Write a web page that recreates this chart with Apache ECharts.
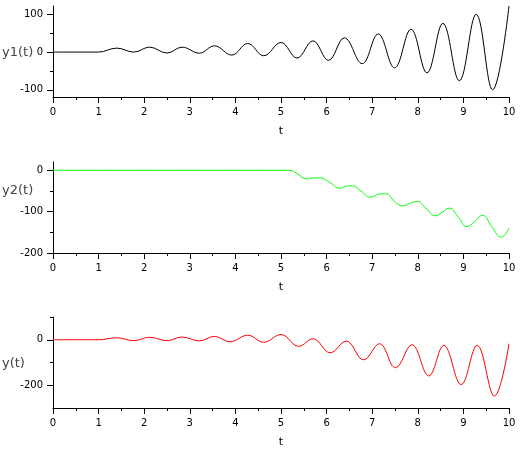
<!DOCTYPE html>
<html><head><meta charset="utf-8">
<script src="https://cdn.jsdelivr.net/npm/echarts@6/dist/echarts.min.js"></script>
<style>html,body{margin:0;padding:0;background:#fff}#c{width:521px;height:450px}</style>
</head><body><div id="c"></div>
<script>
// ---- data (start, peaks and troughs) ----
const y1T = [0,1.0,1.40,1.77,2.12,2.50,2.83,3.21,3.54,3.92,4.27,4.62,5.00,5.35,5.70,6.04,6.39,6.78,7.13,7.49,7.85,8.20,8.55,8.91,9.28,9.64,10.0];
const y1V = [0,0,10.5,0,13,-2.6,13,-3,16.6,-8,22.7,-9.7,25.3,-15.8,29.7,-22,37.6,-30.8,48,-42,60.5,-55,76,-76,100,-100,122];

const y2T = [0,5.17,5.35,5.57,5.68,5.86,6.05,6.30,6.45,6.56,6.75,6.96,7.18,7.31,7.45,7.58,7.69,7.82,7.98,8.18,8.38,8.53,8.69,8.88,9.08,9.25,9.42,9.62,9.83,10.0];
const y2V = [0,0,-8,-21,-18.5,-18.5,-28,-43.4,-37.8,-37.8,-50,-65,-57,-57,-71,-83,-86,-80,-75.6,-92,-110,-102,-91.6,-112,-136,-124,-109,-136,-161.5,-140];

const yT = [0,1.0,1.40,1.77,2.12,2.50,2.83,3.21,3.54,3.88,4.27,4.62,5.00,5.39,5.70,6.08,6.43,6.81,7.16,7.51,7.87,8.24,8.57,8.95,9.30,9.68,10.0];
const yV = [0,0,8.8,-4,11,-4,12,-5,15,-9,20,-11,23,-29,4.4,-57,-6,-88,-17.5,-123,-22,-159,-25,-197,-25,-247,-17.5];

const xTicks = [0,1,2,3,4,5,6,7,8,9,10];
const y1Major = [-100,0,100], y1Minor = [-50,50];
const y2Major = [-200,-100,0], y2Minor = [-150,-50];
const yMajor = [-200,0], yMinor = [-100,100];
const yNames = ['y1(t)','y2(t)','y(t)'];
const colors = ['#000000','#00ff00','#ff0000'];

// ---- layout ----
const FONT = 'DejaVu Sans';
const grids = [
  {left:53, width:456, top:6, height:91},
  {left:53, width:456, top:162, height:91},
  {left:53, width:456, top:317, height:91}
];
const yRanges = [[-119,122],[-200,20],[-300,100]];
const majors = [y1Major,y2Major,yMajor];
const minors = [y1Minor,y2Minor,yMinor];
const seriesT = [y1T,y2T,yT], seriesV = [y1V,y2V,yV];
const smooths = [0.4,0.5,0.4];
const nameY = [52,190,363];

const xAxes = [], yAxes = [], series = [], graphic = [];
for (let i=0;i<3;i++){
  xAxes.push({
    type:'value', gridIndex:i, min:xTicks[0], max:xTicks[xTicks.length-1], interval:1,
    name:'t', nameLocation:'middle', nameGap:29,
    nameTextStyle:{color:'#000', fontFamily:FONT, fontSize:11},
    axisLine:{show:true, onZero:false, lineStyle:{color:'#000', width:1}},
    axisTick:{show:true, inside:false, length:6, lineStyle:{color:'#000'}},
    minorTick:{show:true, splitNumber:2, length:3, lineStyle:{color:'#000'}},
    splitLine:{show:false}, minorSplitLine:{show:false},
    axisLabel:{color:'#000', fontFamily:FONT, fontSize:10, margin:10}
  });
  yAxes.push({
    type:'value', gridIndex:i, min:yRanges[i][0], max:yRanges[i][1], position:'left',
    axisLine:{show:true, onZero:false, lineStyle:{color:'#000', width:1}},
    axisTick:{show:true, length:6, customValues:majors[i], lineStyle:{color:'#000'}},
    axisLabel:{show:true, customValues:majors[i], color:'#000', fontFamily:FONT, fontSize:10, margin:10},
    splitLine:{show:false}
  });
  yAxes.push({
    type:'value', gridIndex:i, min:yRanges[i][0], max:yRanges[i][1], position:'left',
    axisLine:{show:false},
    axisTick:{show:true, length:3, customValues:minors[i], lineStyle:{color:'#000'}},
    axisLabel:{show:false},
    splitLine:{show:false}
  });
  series.push({
    type:'line', xAxisIndex:i, yAxisIndex:2*i,
    data: seriesT[i].map((t,k)=>[t, seriesV[i][k]]),
    showSymbol:false, smooth:smooths[i], animation:false,
    lineStyle:{color:colors[i], width:1}
  });
  graphic.push({
    type:'text', left:2, top:nameY[i]-6,
    style:{text:yNames[i], fill:'#444', font:'13px "DejaVu Sans"'}
  });
}

const chart = echarts.init(document.getElementById('c'), null, {renderer:'canvas'});
chart.setOption({
  animation:false,
  backgroundColor:'#fff',
  grid:grids, xAxis:xAxes, yAxis:yAxes, series:series, graphic:graphic
});
</script>
</body></html>
